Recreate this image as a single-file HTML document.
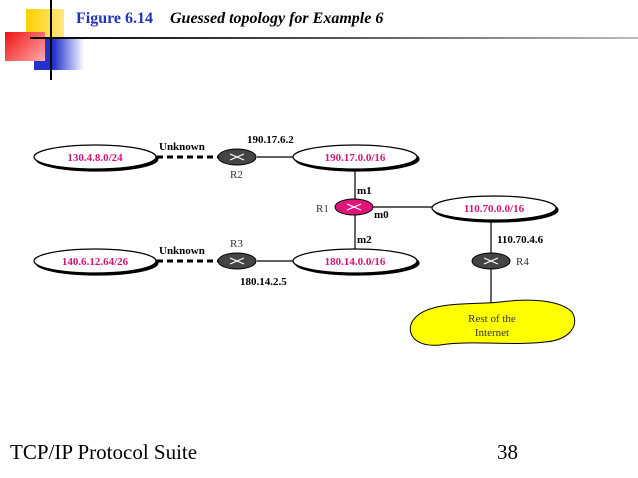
<!DOCTYPE html>
<html><head><style>
body{margin:0;width:638px;height:478px;background:#fff;overflow:hidden;position:relative;font-family:"Liberation Serif",serif}
.t{position:absolute;white-space:nowrap}
</style></head><body>
<div style="position:absolute;left:26px;top:9px;width:38px;height:30px;background:linear-gradient(90deg,#ffd000,#ffe880)"></div>
<div style="position:absolute;left:34px;top:38px;width:50px;height:32px;background:linear-gradient(90deg,#2233cc 40%,#fff)"></div>
<div style="position:absolute;left:5px;top:32px;width:40px;height:29px;background:linear-gradient(135deg,#ee1111,#ffaaaa)"></div>
<div style="position:absolute;left:50px;top:0;width:2px;height:80px;background:#000"></div>
<div style="position:absolute;left:30px;top:37px;width:608px;height:2px;background:linear-gradient(90deg,#000,#555 50%,#bbb)"></div>
<div class="t" style="left:76px;top:10px;font-size:16px;font-weight:bold;color:#2233bb">Figure 6.14</div>
<div class="t" style="left:170px;top:10px;font-size:16px;font-weight:bold;font-style:italic">Guessed topology for Example 6</div>
<svg width="638" height="478" style="position:absolute;left:0;top:0" font-family="Liberation Serif" font-weight="bold" font-size="11">
<g stroke="#000" stroke-width="1.2">
<line x1="257" y1="157" x2="293" y2="157"/><line x1="257" y1="261" x2="293" y2="261"/>
<line x1="355" y1="170" x2="355" y2="249"/><line x1="373" y1="207" x2="432" y2="207"/>
<line x1="491" y1="220" x2="491" y2="312"/>
<line x1="157" y1="157" x2="218" y2="157" stroke-width="3" stroke-dasharray="6,4"/>
<line x1="157" y1="261" x2="218" y2="261" stroke-width="3" stroke-dasharray="6,4"/>
</g>
<g stroke="#000" stroke-width="1.2" fill="#fff">
<ellipse cx="97" cy="159" rx="61" ry="12" fill="#000"/><ellipse cx="95" cy="157" rx="61" ry="12"/>
<ellipse cx="357" cy="159" rx="62" ry="12" fill="#000"/><ellipse cx="355" cy="157" rx="62" ry="12"/>
<ellipse cx="496" cy="210" rx="62" ry="12" fill="#000"/><ellipse cx="494" cy="208" rx="62" ry="12"/>
<ellipse cx="357" cy="263" rx="62" ry="12" fill="#000"/><ellipse cx="355" cy="261" rx="62" ry="12"/>
<ellipse cx="97" cy="263" rx="61" ry="12" fill="#000"/><ellipse cx="95" cy="261" rx="61" ry="12"/>
</g>
<path d="M415 318 C430 300 480 305 500 302 C530 298 560 300 572 312 C580 325 570 340 545 342 C510 346 470 340 440 345 C410 348 405 328 415 318Z" fill="#ffff00" stroke="#000"/>
<g stroke="#000">
<ellipse cx="237" cy="157" rx="19" ry="8" fill="#444"/><ellipse cx="237" cy="261" rx="19" ry="8" fill="#444"/>
<ellipse cx="491" cy="261" rx="19" ry="8" fill="#444"/><ellipse cx="354" cy="207" rx="19" ry="8" fill="#e0157a"/>
</g>
<g stroke="#fff" stroke-width="1.2">
<path d="M230 154l14 6M230 160l14-6M230 258l14 6M230 264l14-6M484 258l14 6M484 264l14-6M347 204l14 6M347 210l14-6"/>
</g>
<g fill="#d0157a" text-anchor="middle">
<text x="95" y="161">130.4.8.0/24</text><text x="355" y="161">190.17.0.0/16</text>
<text x="494" y="212">110.70.0.0/16</text><text x="355" y="265">180.14.0.0/16</text>
<text x="95" y="265">140.6.12.64/26</text>
</g>
<g fill="#000">
<text x="159" y="150">Unknown</text><text x="159" y="254">Unknown</text>
<text x="247" y="143">190.17.6.2</text><text x="240" y="285">180.14.2.5</text>
<text x="357" y="194">m1</text><text x="374" y="218">m0</text><text x="357" y="243">m2</text>
<text x="497" y="243">110.70.4.6</text>
</g>
<g fill="#333" font-weight="normal">
<text x="230" y="178">R2</text><text x="230" y="247">R3</text><text x="316" y="212">R1</text><text x="516" y="265">R4</text>
<text x="492" y="322" text-anchor="middle">Rest of the</text><text x="492" y="336" text-anchor="middle">Internet</text>
</g>
</svg>
<div class="t" style="left:10px;top:440px;font-size:21px">TCP/IP Protocol Suite</div>
<div class="t" style="left:497px;top:440px;font-size:21px">38</div>
</body></html>
